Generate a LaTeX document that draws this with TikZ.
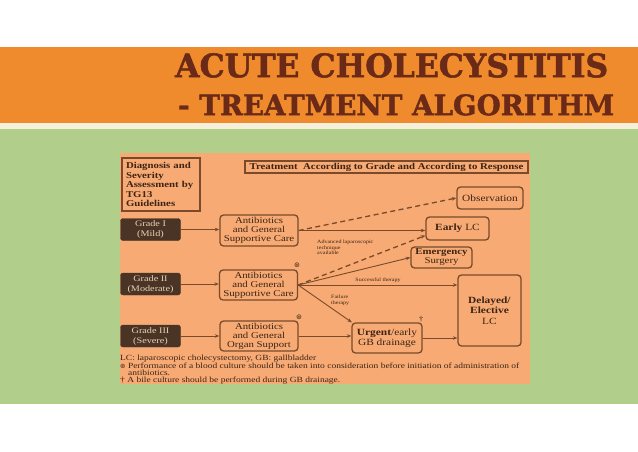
\documentclass[tikz,border=0pt]{standalone}
\usepackage{graphicx}
\usepackage{fontspec}
\setmainfont[FakeStretch=1.2]{Liberation Serif}
\newfontfamily\titlefont[BoldFeatures={FakeBold=1.6}]{DejaVu Serif}
\newfontfamily\symfont{DejaVu Sans}
\usetikzlibrary{arrows.meta,calc}
\definecolor{bandor}{HTML}{EF8B2C}
\definecolor{titlec}{HTML}{6B2A17}
\definecolor{creamc}{HTML}{F4F0DC}
\definecolor{greenbg}{HTML}{B1CF8A}
\definecolor{panelc}{HTML}{F7AA74}
\definecolor{bordc}{HTML}{7A4A2A}
\definecolor{txtc}{HTML}{3C2414}
\definecolor{gradef}{HTML}{4A3426}
\definecolor{gradet}{HTML}{EACFB2}
\begin{document}
\begin{tikzpicture}[x=1pt,y=-1pt,
  rbox/.style={draw=bordc, line width=1.3pt, rounded corners=3.5pt, fill=panelc, text=txtc, align=center, inner sep=1pt, font=\fontsize{9}{9}\selectfont},
  sqbox/.style={draw=bordc, line width=1.3pt, fill=panelc, text=txtc, inner sep=1pt, font=\fontsize{9}{9.5}\selectfont\bfseries},
  gradebox/.style={fill=gradef, draw=gradef, rounded corners=2.5pt, text=gradet, align=center, inner sep=1pt, minimum width=60pt, minimum height=22pt, font=\fontsize{8.5}{10}\selectfont},
  arr/.style={draw=bordc, line width=0.9pt, -{Stealth[length=4.5pt,width=3.5pt]}},
  darr/.style={draw=bordc, line width=1.3pt, dash pattern=on 5pt off 3.5pt, -{Stealth[length=4.5pt,width=3.5pt]}},
  lbl/.style={text=txtc, inner sep=0pt, font=\fontsize{5}{5.5}\selectfont},
  foot/.style={text=txtc, inner sep=0pt, align=left, font=\fontsize{7.9}{6.6}\selectfont},
  sym/.style={text=txtc, inner sep=0pt, font=\symfont\fontsize{7}{7}\selectfont}]
\useasboundingbox (0,0) rectangle (638,452);
\fill[white] (0,0) rectangle (638,452);
\fill[bandor] (0,47) rectangle (638,123);
\fill[creamc] (0,123) rectangle (638,129);
\fill[greenbg] (0,129) rectangle (638,404);
\fill[panelc] (120,153) rectangle (530,384);

\node[anchor=north west, inner sep=0pt, text=titlec] (t1) at (175,53) {\resizebox{433pt}{24pt}{\titlefont\bfseries ACUTE CHOLECYSTITIS}};
\node[anchor=north west, inner sep=0pt, text=titlec] (t2) at (178,94) {\resizebox{436pt}{21pt}{\titlefont\bfseries - TREATMENT ALGORITHM}};

\node[sqbox, minimum width=78pt, minimum height=53pt, text width=70pt, align=left] (diag) at (161,184.5) {Diagnosis and\\Severity\\Assessment by\\TG13\\Guidelines};
\node[sqbox, minimum width=283pt, minimum height=12pt] (treat) at (386.5,167) {Treatment\ \ According to Grade and According to Response};

\node[gradebox] (g1) at (150.5,229.5) {Grade I\\(Mild)};
\node[gradebox] (g2) at (150.5,284) {Grade II\\(Moderate)};
\node[gradebox] (g3) at (150.5,336) {Grade III\\(Severe)};

\node[rbox, minimum width=78pt, minimum height=31pt] (ab1) at (259,230.5) {Antibiotics\\and General\\Supportive Care};
\node[rbox, minimum width=78pt, minimum height=30pt] (ab2) at (258.5,285) {Antibiotics\\and General\\Supportive Care};
\node[rbox, minimum width=78pt, minimum height=30pt] (ab3) at (259,336) {Antibiotics\\and General\\Organ Support};

\node[rbox, minimum width=66pt, minimum height=22pt, font=\fontsize{9.5}{9.5}\selectfont] (obs) at (490,198) {Observation};
\node[rbox, minimum width=63pt, minimum height=23pt, font=\fontsize{9.5}{9.5}\selectfont] (early) at (457.5,228.5) {\textbf{Early} LC};
\node[rbox, minimum width=61pt, minimum height=21pt] (emer) at (441.5,257.5) {\textbf{Emergency}\\Surgery};
\node[rbox, minimum width=63pt, minimum height=71pt, font=\fontsize{9.5}{10.5}\selectfont] (del) at (489.5,310.5) {\textbf{Delayed/}\\\textbf{Elective}\\LC};
\node[rbox, minimum width=70pt, minimum height=30pt, font=\fontsize{9.5}{10}\selectfont] (urg) at (387,338) {\textbf{Urgent}/early\\GB drainage};

\draw[arr] (g1.east) -- (g1.east -| ab1.west);
\draw[arr] (g2.east) -- (g2.east -| ab2.west);
\draw[arr] (g3.east) -- (g3.east -| ab3.west);
\draw[arr] (ab1.east) -- (ab1.east -| early.west);
\draw[darr] (ab1.east) -- (obs.west);
\draw[darr] (ab2.east) -- ($(early.west)+(0,7)$);
\draw[arr] (ab2.east) -- (emer.west);
\draw[arr] (ab2.east) -- (ab2.east -| del.west);
\draw[arr] (ab2.east) -- ($(urg.north west)+(0.5,0)$);
\draw[arr] (ab3.east) -- (ab3.east -| urg.west);
\draw[arr] (urg.east) -- (urg.east -| del.west);

\node[lbl, anchor=south] (lsucc) at (378,282.5) {Successful therapy};
\node[lbl, anchor=north west, align=left] (lfail) at (331,295) {Failure\\therapy};
\node[lbl, anchor=north west, align=left] (ladv) at (317,240) {Advanced laparoscopic\\technique\\available};

\node[sym] (s1) at (297,265) {⊛};
\node[sym] (s2) at (299,317) {⊛};
\node[text=txtc, inner sep=0pt, font=\fontsize{7.5}{7.5}\selectfont] (s3) at (421,319) {†};

\node[foot, anchor=north west] (fn) at (120,355) {LC: laparoscopic cholecystectomy, GB: gallbladder\\{\symfont\fontsize{6.5}{6.5}\selectfont ⊛} Performance of a blood culture should be taken into consideration before initiation of administration of\\\hspace*{8pt}antibiotics.\\† A bile culture should be performed during GB drainage.};
\end{tikzpicture}
\end{document}
